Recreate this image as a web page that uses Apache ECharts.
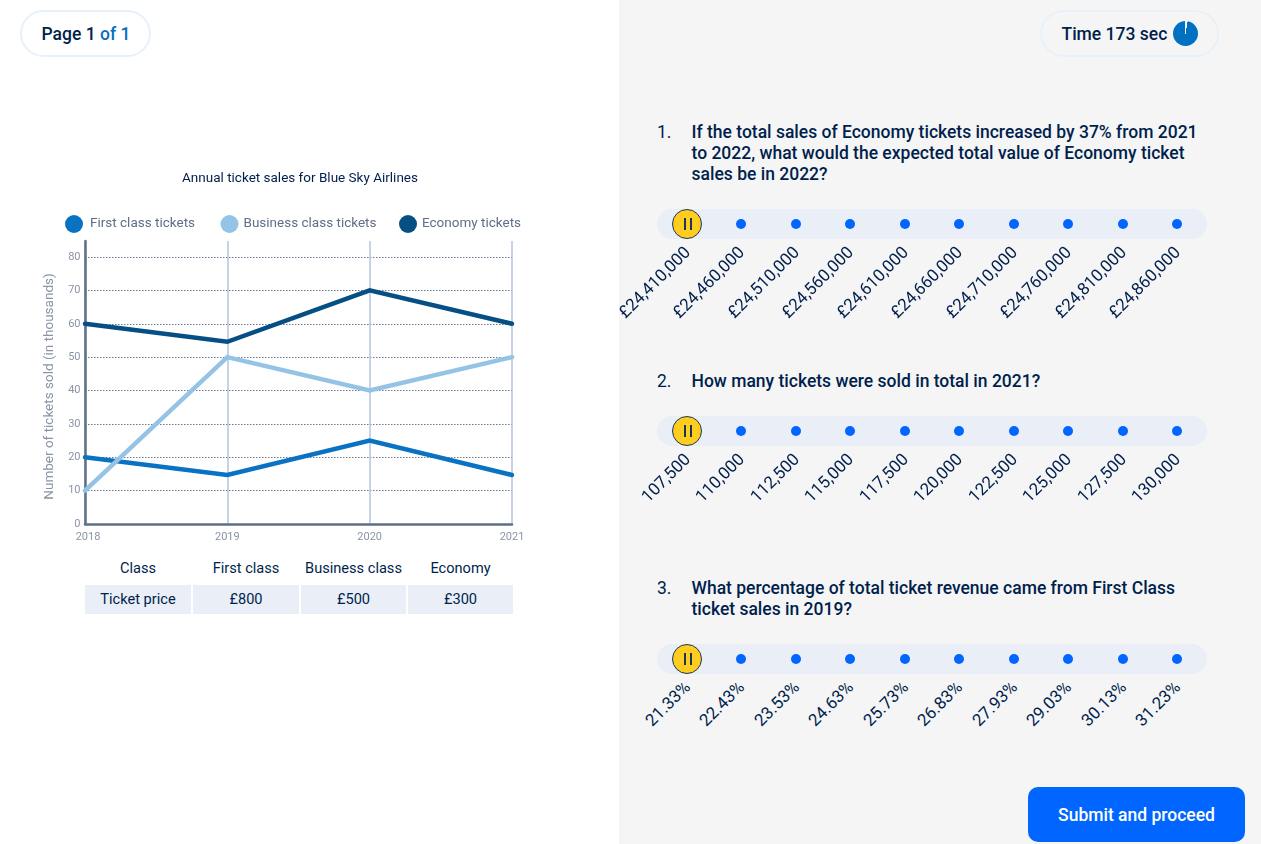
<!DOCTYPE html>
<html><head><meta charset="utf-8">
<script src="https://cdn.jsdelivr.net/npm/echarts@6/dist/echarts.min.js"></script>
<style>
html,body{margin:0;padding:0;background:#fff;overflow:hidden}
body{width:1261px;height:844px;position:relative;font-family:Roboto,sans-serif;color:#001f4d}
.abs{position:absolute;box-sizing:border-box}
#panel{left:619px;top:0;width:642px;height:844px;background:#f5f5f5}
.pill{border:2.5px solid #e8f1fa;border-radius:24px;height:47px;top:10px;font-size:17.5px;font-weight:500;line-height:44px;white-space:nowrap}
#chart{left:0;top:160px;width:619px;height:390px}
.cell{background:#e9eef7;height:29px;top:585px;text-align:center;line-height:29px;font-size:14.6px}
.head{top:557px;height:22px;text-align:center;line-height:22px;font-size:14.6px}
.q{font-size:17.5px;font-weight:500;line-height:21px;width:520px;left:691.5px}
.qn{font-size:17.5px;line-height:21px;left:657px}
.track{left:657px;width:550px;height:30px;border-radius:15px;background:#e9eef7}
.dot{width:10px;height:10px;border-radius:50%;background:#0066ff}
.knob{width:30px;height:30px;border-radius:50%;background:#ffcd1f;border:1.5px solid #1d3557;left:672px}
.bar{width:2px;height:12px;background:#1d3557}
.lab{font-size:17px;line-height:20px;white-space:nowrap;text-align:right;width:130px;transform-origin:100% 50%;transform:rotate(-45deg)}
#btn{left:1028px;top:787px;width:217px;height:55px;background:#0066ff;border-radius:10px;color:#fff;font-size:17.5px;font-weight:500;text-align:center;line-height:56px}
#pie{left:1173px;top:20.5px;width:25px;height:25px;border-radius:50%;background:conic-gradient(#f5f5f5 0deg 10deg,#0070c0 10deg 360deg)}
</style></head>
<body>
<div class="abs" id="panel"></div>
<div class="abs pill" style="left:20px;width:131px;padding-left:19.5px">Page 1 <span style="color:#0a6ebd">of 1</span></div>
<div class="abs pill" style="left:1040px;width:179px;padding-left:19.5px">Time 173 sec</div>
<div class="abs" id="pie"></div>
<div class="abs" id="chart"></div>
<div class="abs" id="btn">Submit and proceed</div>
<script>
var years = ['2018','2019','2020','2021'];
var firstClass = [20,14.7,25,14.7];
var businessClass = [10,50,40,50];
var economy = [60,54.6,70,60];
var seriesNames = ['First class tickets','Business class tickets','Economy tickets'];
var seriesColors = ['#0a72c2','#95c3e6','#054f85'];
var tableHead = ['Class','First class','Business class','Economy'];
var tableRow = ['Ticket price','£800','£500','£300'];
var q1Text = 'If the total sales of Economy tickets increased by 37% from 2021<br>to 2022, what would the expected total value of Economy ticket<br>sales be in 2022?';
var q2Text = 'How many tickets were sold in total in 2021?';
var q3Text = 'What percentage of total ticket revenue came from First Class<br>ticket sales in 2019?';
var q1Labels = ['£24,410,000','£24,460,000','£24,510,000','£24,560,000','£24,610,000','£24,660,000','£24,710,000','£24,760,000','£24,810,000','£24,860,000'];
var q2Labels = ['107,500','110,000','112,500','115,000','117,500','120,000','122,500','125,000','127,500','130,000'];
var q3Labels = ['21.33%','22.43%','23.53%','24.63%','25.73%','26.83%','27.93%','29.03%','30.13%','31.23%'];

function el(cls,style,html){var d=document.createElement('div');d.className='abs '+cls;d.style.cssText=style;if(html!==undefined)d.innerHTML=html;document.body.appendChild(d);return d;}

var cols=[[85,106],[193,106],[301,105],[408,105]];
tableHead.forEach(function(t,i){el('head','left:'+cols[i][0]+'px;width:'+cols[i][1]+'px',t);});
tableRow.forEach(function(t,i){el('cell','left:'+cols[i][0]+'px;width:'+cols[i][1]+'px',t);});

var dotX=[687,741,796,850,905,959,1014,1068,1123,1177];
function question(n,text,textTop,trackTop,labels){
  el('qn','top:'+textTop+'px',n+'.');
  el('q','top:'+textTop+'px',text);
  el('track','top:'+trackTop+'px');
  var cy=trackTop+15;
  el('knob','top:'+(cy-15)+'px');
  el('bar','left:683.5px;top:'+(cy-6)+'px');
  el('bar','left:689.5px;top:'+(cy-6)+'px');
  labels.forEach(function(t,i){
    var x=dotX[i];
    if(i>0) el('dot','left:'+(x-5)+'px;top:'+(cy-5)+'px');
    el('lab','left:'+(x-130)+'px;top:'+(cy+15)+'px',t);
  });
}
question(1,q1Text,122,209,q1Labels);
question(2,q2Text,371,416,q2Labels);
question(3,q3Text,578,644,q3Labels);

var chart=echarts.init(document.getElementById('chart'),null,{renderer:'canvas'});
var axisGrey='#8a94a6';
function line(name,data,color){return {name:name,type:'line',data:data,symbol:'none',showSymbol:false,lineStyle:{width:4.5,color:color,cap:'round',join:'miter'},itemStyle:{color:color},animation:false};}
function legendItem(i,left,pad){return {left:left,top:55,padding:0,itemWidth:18,itemHeight:18,icon:'circle',data:[seriesNames[i]],textStyle:{fontSize:13.5,color:'#5f6f87',fontFamily:'Roboto',padding:[0,0,0,pad]}};}
chart.setOption({
  animation:false,
  textStyle:{fontFamily:'Roboto'},
  title:{text:'Annual ticket sales for Blue Sky Airlines',left:295,top:7,textAlign:'center',textStyle:{fontSize:13.5,fontWeight:400,color:'#001f4d',fontFamily:'Roboto'}},
  legend:[legendItem(0,65,2),legendItem(1,220.5,0),legendItem(2,399,0)],
  grid:{left:85,right:107,top:81,height:283},
  xAxis:{type:'category',data:years,boundaryGap:false,
    axisLine:{onZero:false,lineStyle:{color:'#5f6f87',width:2.5}},axisTick:{show:false},
    axisLabel:{color:axisGrey,fontSize:11,margin:8,fontFamily:'Roboto',
      formatter:function(v){return v===years[0]?'{a|'+v+'}':v;},
      rich:{a:{color:axisGrey,fontSize:11,fontFamily:'Roboto',padding:[0,0,0,6]}}},
    splitLine:{show:true,lineStyle:{color:'#b4c5dc',width:1.5,type:'solid'}}},
  yAxis:{type:'value',min:0,max:84.8,interval:10,name:'Number of tickets sold (in thousands)',nameLocation:'middle',nameGap:28.5,nameRotate:90,
    nameTextStyle:{color:axisGrey,fontSize:13.5,fontFamily:'Roboto',padding:[0,8,0,0]},
    axisLine:{show:true,lineStyle:{color:'#5f6f87',width:2.5}},axisTick:{show:false},
    axisLabel:{color:axisGrey,fontSize:11,margin:4.5,showMaxLabel:false,fontFamily:'Roboto',padding:[0,0,1,0]},
    splitLine:{show:true,showMaxLine:false,lineStyle:{color:'#6b7a92',width:1,type:[1.5,1.5]}}},
  series:[line(seriesNames[0],firstClass,seriesColors[0]),line(seriesNames[1],businessClass,seriesColors[1]),line(seriesNames[2],economy,seriesColors[2])]
});
</script>
</body></html>
